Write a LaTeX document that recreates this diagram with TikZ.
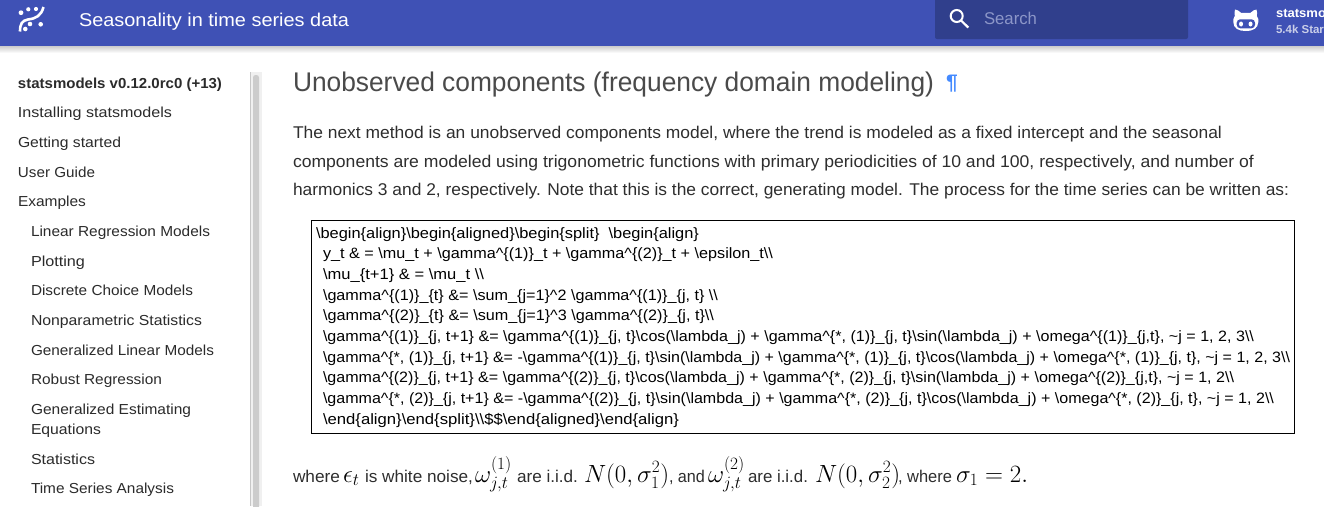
\documentclass[tikz,border=0pt]{standalone}
\usepackage{fontspec}
\usepackage{graphicx}
\usepackage{amsmath}
\setmainfont{Liberation Sans}
\usetikzlibrary{shadings}
\definecolor{barblue}{HTML}{3F51B5}
\definecolor{searchblue}{HTML}{303F8C}
\definecolor{searchtext}{HTML}{8C96C8}
\definecolor{startext}{HTML}{C9CEE9}
\definecolor{linkblue}{HTML}{448AFF}
\definecolor{navtext}{HTML}{2B2B2B}
\definecolor{bodytext}{HTML}{2E2E2E}
\definecolor{titletext}{HTML}{4A4A4A}
\newcommand{\fitw}[2]{\resizebox{#1pt}{\height}{#2}}
\tikzset{
  x=1pt,y=-1pt,
  lbl/.style={anchor=base west,inner sep=0pt,outer sep=0pt},
  navitem/.style={lbl,font=\fontsize{14.5}{16}\selectfont,text=navtext},
  bodyline/.style={lbl,font=\fontsize{17}{20}\selectfont,text=bodytext},
  codeline/.style={lbl,font=\fontsize{15}{18}\selectfont,text=black},
  mathpart/.style={lbl,font=\fontsize{17}{20}\selectfont,text=bodytext},
  mathbig/.style={lbl,font=\fontsize{24}{28}\selectfont,text=black},
}
\begin{document}
\begin{tikzpicture}
\useasboundingbox (0,0) rectangle (1324,506);
\clip (0,0) rectangle (1324,506);
\fill[white] (0,0) rectangle (1324,506);
% shadow and header
\shade[top color=black!20,bottom color=white] (0,46) rectangle (1324,53);
\fill[barblue] (0,0) rectangle (1324,46);
% logo
\draw[white,line width=2.6pt] (20,31.5) .. controls (20,24) and (22,20.5) .. (28,19.5) .. controls (36,18.5) and (41,16) .. (43.5,7);
\foreach \px/\py/\pr in {21/12.7/2.4,28.3/9.3/2.1,36/9/2.1,30/24/2.3,40.7/24.3/2.3,25.3/29/2.3}{\fill[white] (\px,\py) circle[radius=\pr];}
\node[lbl,font=\fontsize{18.5}{22}\selectfont,text=white] (headtitle) at (79,26) {\fitw{270}{Seasonality in time series data}};
% search
\fill[searchblue,rounded corners=2pt] (935,-3) rectangle (1188,39);
\draw[white,line width=2pt] (956.7,16) circle[radius=6];
\draw[white,line width=2.2pt] (961,20.5) -- (968.3,27.5);
\node[lbl,font=\fontsize{17}{20}\selectfont,text=searchtext] (searchlbl) at (984,24.5) {\fitw{53}{Search}};
% cat
\fill[white] (1235,9.5) .. controls (1237,9.5) and (1239,11) .. (1241,12.8) -- (1250.5,12.8) .. controls (1252.5,11) and (1254.5,9.5) .. (1256.5,9.5) .. controls (1257.2,12) and (1257.2,14) .. (1256.8,16) .. controls (1258.5,18) and (1258.5,20) .. (1258.3,22) .. controls (1258,28.5) and (1253,31) .. (1245.7,31) .. controls (1238.5,31) and (1233.5,28.5) .. (1233.3,22) .. controls (1233.2,20) and (1233.2,18) .. (1234.8,16) .. controls (1234.4,14) and (1234.4,12) .. (1235,9.5) -- cycle;
\fill[barblue,rounded corners=3.5pt] (1236.7,19.3) rectangle (1255,28.3);
\fill[white] (1241,24) ellipse[x radius=2,y radius=2.5];
\fill[white] (1250.5,24) ellipse[x radius=2,y radius=2.5];
\node[lbl,font=\bfseries\fontsize{12.5}{14}\selectfont,text=white] (repo) at (1276,17) {\fitw{50}{statsmo}};
\node[lbl,font=\bfseries\fontsize{11.5}{14}\selectfont,text=startext] (stars) at (1276,33) {5.4k Star};
% scrollbar
\fill[black!6] (250,72) rectangle (262,506);
\fill[black!22] (250,72) rectangle (251,506);
\fill[black!20,rounded corners=2.5pt] (253,75) rectangle (259,512);
% nav
\node[navitem,font=\bfseries\fontsize{14.5}{16}\selectfont] (n0) at (18,88) {\fitw{204}{statsmodels v0.12.0rc0 (+13)}};
\node[navitem] (n1) at (18,117) {\fitw{154}{Installing statsmodels}};
\node[navitem] (n2) at (18,147) {\fitw{103}{Getting started}};
\node[navitem] (n3) at (18,177) {\fitw{77}{User Guide}};
\node[navitem] (n4) at (18,206) {\fitw{68}{Examples}};
\node[navitem] (n5) at (31,236) {\fitw{179}{Linear Regression Models}};
\node[navitem] (n6) at (31,266) {\fitw{54}{Plotting}};
\node[navitem] (n7) at (31,295) {\fitw{162}{Discrete Choice Models}};
\node[navitem] (n8) at (31,325) {\fitw{171}{Nonparametric Statistics}};
\node[navitem] (n9) at (31,355) {\fitw{183}{Generalized Linear Models}};
\node[navitem] (n10) at (31,384) {\fitw{131}{Robust Regression}};
\node[navitem] (n11) at (31,414) {\fitw{160}{Generalized Estimating}};
\node[navitem] (n12) at (31,434) {\fitw{70}{Equations}};
\node[navitem] (n13) at (31,464) {\fitw{64}{Statistics}};
\node[navitem] (n14) at (31,493) {\fitw{143}{Time Series Analysis}};
% title
\node[lbl,font=\fontsize{27}{32}\selectfont,text=titletext] (title) at (293,91) {\fitw{641}{Unobserved components (frequency domain modeling)}};
\node[lbl,font=\bfseries\fontsize{21}{26}\selectfont,text=linkblue] (pilcrow) at (946,89) {¶};
% paragraph
\node[bodyline] (p1) at (293,138) {\fitw{929}{The next method is an unobserved components model, where the trend is modeled as a fixed intercept and the seasonal}};
\node[bodyline] (p2) at (293,167) {\fitw{961}{components are modeled using trigonometric functions with primary periodicities of 10 and 100, respectively, and number of}};
\node[bodyline] (p3) at (293,195) {\fitw{996}{harmonics 3 and 2, respectively. Note that this is the correct, generating model. The process for the time series can be written as:}};
% code box
\draw[black,line width=1pt] (311.5,220.5) rectangle (1294.5,433.5);
\node[codeline] (c0) at (316,238) {\fitw{383}{\char`\\begin\{align\}\char`\\begin\{aligned\}\char`\\begin\{split\}\ \ \char`\\begin\{align\}}};
\node[codeline] (c1) at (323,258.6) {\fitw{450}{y\_t \& = \char`\\mu\_t + \char`\\gamma\char`\^\{(1)\}\_t + \char`\\gamma\char`\^\{(2)\}\_t + \char`\\epsilon\_t\char`\\\char`\\}};
\node[codeline] (c2) at (323,279.3) {\fitw{161}{\char`\\mu\_\{t+1\} \& = \char`\\mu\_t \char`\\\char`\\}};
\node[codeline] (c3) at (323,300) {\fitw{395}{\char`\\gamma\char`\^\{(1)\}\_\{t\} \&= \char`\\sum\_\{j=1\}\char`\^2 \char`\\gamma\char`\^\{(1)\}\_\{j, t\} \char`\\\char`\\}};
\node[codeline] (c4) at (323,320.7) {\fitw{391}{\char`\\gamma\char`\^\{(2)\}\_\{t\} \&= \char`\\sum\_\{j=1\}\char`\^3 \char`\\gamma\char`\^\{(2)\}\_\{j, t\}\char`\\\char`\\}};
\node[codeline] (c5) at (323,341.3) {\fitw{931}{\char`\\gamma\char`\^\{(1)\}\_\{j, t+1\} \&= \char`\\gamma\char`\^\{(1)\}\_\{j, t\}\char`\\cos(\char`\\lambda\_j) + \char`\\gamma\char`\^\{*, (1)\}\_\{j, t\}\char`\\sin(\char`\\lambda\_j) + \char`\\omega\char`\^\{(1)\}\_\{j,t\}, \char`\~j = 1, 2, 3\char`\\\char`\\}};
\node[codeline] (c6) at (323,362) {\fitw{967}{\char`\\gamma\char`\^\{*, (1)\}\_\{j, t+1\} \&= -\char`\\gamma\char`\^\{(1)\}\_\{j, t\}\char`\\sin(\char`\\lambda\_j) + \char`\\gamma\char`\^\{*, (1)\}\_\{j, t\}\char`\\cos(\char`\\lambda\_j) + \char`\\omega\char`\^\{*, (1)\}\_\{j, t\}, \char`\~j = 1, 2, 3\char`\\\char`\\}};
\node[codeline] (c7) at (323,382.7) {\fitw{911}{\char`\\gamma\char`\^\{(2)\}\_\{j, t+1\} \&= \char`\\gamma\char`\^\{(2)\}\_\{j, t\}\char`\\cos(\char`\\lambda\_j) + \char`\\gamma\char`\^\{*, (2)\}\_\{j, t\}\char`\\sin(\char`\\lambda\_j) + \char`\\omega\char`\^\{(2)\}\_\{j,t\}, \char`\~j = 1, 2\char`\\\char`\\}};
\node[codeline] (c8) at (323,403.4) {\fitw{951}{\char`\\gamma\char`\^\{*, (2)\}\_\{j, t+1\} \&= -\char`\\gamma\char`\^\{(2)\}\_\{j, t\}\char`\\sin(\char`\\lambda\_j) + \char`\\gamma\char`\^\{*, (2)\}\_\{j, t\}\char`\\cos(\char`\\lambda\_j) + \char`\\omega\char`\^\{*, (2)\}\_\{j, t\}, \char`\~j = 1, 2\char`\\\char`\\}};
\node[codeline] (c9) at (323,424) {\fitw{356}{\char`\\end\{align\}\char`\\end\{split\}\char`\\\char`\\\$\$\char`\\end\{aligned\}\char`\\end\{align\}}};
% final line
\node[mathpart] (f1) at (293,482) {\fitw{47}{where}};
\node[mathbig] (f2) at (343,482) {$\epsilon_t$};
\node[mathpart] (f3) at (365,482) {\fitw{108}{is white noise,}};
\node[mathbig] (f4) at (475,482) {$\omega^{(1)}_{j,t}$};
\node[mathpart] (f5) at (517,482) {\fitw{61}{are i.i.d.}};
\node[mathbig] (f6) at (584,482) {$N(0,\sigma^2_1)$};
\node[mathpart] (f7) at (669,482) {\fitw{36}{, and}};
\node[mathbig] (f8) at (708,482) {$\omega^{(2)}_{j,t}$};
\node[mathpart] (f9) at (748,482) {\fitw{60}{are i.i.d.}};
\node[mathbig] (f10) at (815,482) {$N(0,\sigma^2_2)$};
\node[mathpart] (f11) at (898,482) {\fitw{54}{, where}};
\node[mathbig] (f12) at (956,482) {$\sigma_1=2.$};
\end{tikzpicture}
\end{document}
